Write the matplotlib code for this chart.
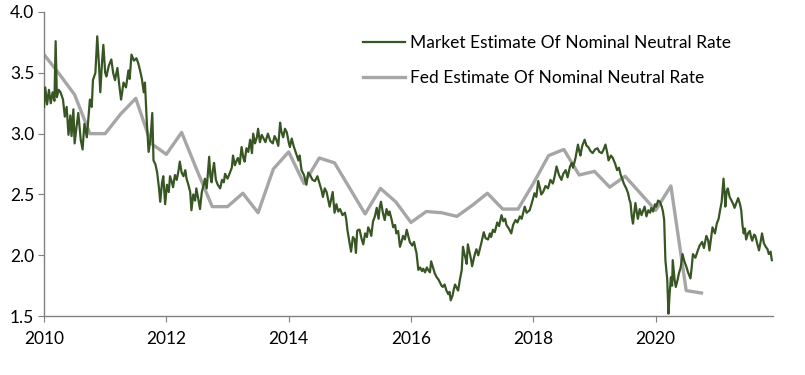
import numpy as np
import matplotlib
matplotlib.use("Agg")
import matplotlib.pyplot as plt

# Market estimate of nominal neutral rate (decimal years)
mkt_t = [
    2010.00, 2010.02, 2010.05, 2010.08, 2010.11, 2010.14, 2010.17, 2010.19, 2010.21, 2010.24,
    2010.27, 2010.31, 2010.34, 2010.37, 2010.40, 2010.43, 2010.45, 2010.48, 2010.50, 2010.53,
    2010.56, 2010.60, 2010.63, 2010.66, 2010.70, 2010.73, 2010.75, 2010.78, 2010.80, 2010.84,
    2010.87, 2010.90, 2010.92, 2010.95, 2010.97, 2011.00, 2011.02, 2011.06, 2011.10, 2011.13,
    2011.16, 2011.20, 2011.23, 2011.26, 2011.30, 2011.34, 2011.38, 2011.40, 2011.43, 2011.47,
    2011.51, 2011.54, 2011.57, 2011.60, 2011.63, 2011.65, 2011.68, 2011.71, 2011.74, 2011.77,
    2011.79, 2011.82, 2011.85, 2011.88, 2011.90, 2011.93, 2011.95, 2011.98, 2012.01, 2012.04,
    2012.06, 2012.09, 2012.11, 2012.14, 2012.17, 2012.20, 2012.22, 2012.25, 2012.28, 2012.31,
    2012.33, 2012.36, 2012.39, 2012.41, 2012.44, 2012.47, 2012.49, 2012.52, 2012.55, 2012.58,
    2012.61, 2012.63, 2012.66, 2012.70, 2012.72, 2012.74, 2012.76, 2012.78, 2012.81, 2012.84,
    2012.88, 2012.91, 2012.94, 2012.96, 2013.00, 2013.04, 2013.07, 2013.09, 2013.12, 2013.15,
    2013.17, 2013.20, 2013.23, 2013.26, 2013.28, 2013.31, 2013.34, 2013.37, 2013.40, 2013.42,
    2013.45, 2013.48, 2013.50, 2013.53, 2013.56, 2013.58, 2013.62, 2013.66, 2013.70, 2013.74,
    2013.77, 2013.80, 2013.83, 2013.86, 2013.88, 2013.91, 2013.94, 2013.97, 2014.00, 2014.02,
    2014.05, 2014.08, 2014.12, 2014.16, 2014.18, 2014.21, 2014.25, 2014.29, 2014.32, 2014.35,
    2014.39, 2014.43, 2014.47, 2014.51, 2014.54, 2014.56, 2014.59, 2014.62, 2014.65, 2014.67,
    2014.70, 2014.72, 2014.75, 2014.78, 2014.81, 2014.84, 2014.88, 2014.92, 2014.94, 2014.96,
    2014.99, 2015.02, 2015.05, 2015.08, 2015.10, 2015.12, 2015.14, 2015.16, 2015.19, 2015.22,
    2015.25, 2015.28, 2015.30, 2015.33, 2015.35, 2015.38, 2015.41, 2015.44, 2015.47, 2015.49,
    2015.51, 2015.54, 2015.57, 2015.60, 2015.63, 2015.65, 2015.68, 2015.71, 2015.74, 2015.76,
    2015.79, 2015.82, 2015.85, 2015.87, 2015.90, 2015.93, 2015.96, 2015.98, 2016.02, 2016.05,
    2016.07, 2016.09, 2016.11, 2016.12, 2016.15, 2016.18, 2016.20, 2016.23, 2016.26, 2016.28,
    2016.31, 2016.33, 2016.36, 2016.39, 2016.42, 2016.45, 2016.47, 2016.50, 2016.52, 2016.55,
    2016.58, 2016.61, 2016.63, 2016.65, 2016.68, 2016.70, 2016.72, 2016.75, 2016.77, 2016.80,
    2016.83, 2016.85, 2016.87, 2016.89, 2016.91, 2016.93, 2016.96, 2016.98, 2017.00, 2017.03,
    2017.05, 2017.07, 2017.10, 2017.12, 2017.15, 2017.19, 2017.22, 2017.26, 2017.29, 2017.31,
    2017.34, 2017.37, 2017.41, 2017.44, 2017.48, 2017.51, 2017.54, 2017.56, 2017.60, 2017.64,
    2017.67, 2017.71, 2017.74, 2017.78, 2017.81, 2017.86, 2017.89, 2017.94, 2017.97, 2018.02,
    2018.05, 2018.08, 2018.11, 2018.13, 2018.16, 2018.20, 2018.24, 2018.28, 2018.32, 2018.35,
    2018.38, 2018.42, 2018.46, 2018.49, 2018.53, 2018.56, 2018.60, 2018.63, 2018.65, 2018.69,
    2018.73, 2018.75, 2018.77, 2018.80, 2018.84, 2018.87, 2018.90, 2018.93, 2018.97, 2019.01,
    2019.05, 2019.08, 2019.12, 2019.15, 2019.18, 2019.21, 2019.23, 2019.27, 2019.30, 2019.34,
    2019.37, 2019.40, 2019.43, 2019.46, 2019.48, 2019.52, 2019.55, 2019.57, 2019.59, 2019.61,
    2019.63, 2019.65, 2019.67, 2019.69, 2019.71, 2019.74, 2019.77, 2019.79, 2019.82, 2019.85,
    2019.88, 2019.91, 2019.93, 2019.96, 2019.99, 2020.01, 2020.04, 2020.07, 2020.10, 2020.12,
    2020.14, 2020.16, 2020.18, 2020.19, 2020.21, 2020.23, 2020.25, 2020.27, 2020.28, 2020.31,
    2020.33, 2020.36, 2020.38, 2020.41, 2020.44, 2020.47, 2020.50, 2020.53, 2020.57, 2020.59,
    2020.61, 2020.65, 2020.69, 2020.72, 2020.76, 2020.79, 2020.83, 2020.86, 2020.88, 2020.91,
    2020.93, 2020.97, 2021.00, 2021.03, 2021.05, 2021.08, 2021.11, 2021.13, 2021.14, 2021.16,
    2021.18, 2021.21, 2021.24, 2021.27, 2021.29, 2021.32, 2021.35, 2021.38, 2021.40, 2021.42,
    2021.44, 2021.46, 2021.48, 2021.51, 2021.54, 2021.56, 2021.58, 2021.61, 2021.63, 2021.66,
    2021.69, 2021.72, 2021.74, 2021.77, 2021.80, 2021.83, 2021.85, 2021.88, 2021.90,
]
mkt_v = [
    3.22, 3.38, 3.24, 3.36, 3.25, 3.34, 3.27, 3.76, 3.30, 3.36,
    3.34, 3.28, 3.14, 3.22, 2.99, 3.15, 2.98, 3.20, 2.92, 3.05,
    3.17, 2.95, 2.87, 3.08, 2.97, 3.15, 3.28, 3.22, 3.44, 3.50,
    3.80, 3.55, 3.34, 3.60, 3.73, 3.50, 3.47, 3.56, 3.61, 3.50,
    3.44, 3.54, 3.40, 3.28, 3.42, 3.38, 3.52, 3.45, 3.65, 3.60,
    3.62, 3.58, 3.52, 3.45, 3.34, 3.42, 3.10, 2.85, 2.95, 3.17,
    2.78, 2.75, 2.68, 2.55, 2.44, 2.60, 2.65, 2.42, 2.58, 2.52,
    2.65, 2.60, 2.56, 2.66, 2.62, 2.70, 2.77, 2.68, 2.65, 2.70,
    2.63, 2.58, 2.52, 2.37, 2.50, 2.45, 2.55, 2.47, 2.38, 2.52,
    2.58, 2.63, 2.55, 2.81, 2.65, 2.60, 2.70, 2.76, 2.62, 2.58,
    2.55, 2.62, 2.60, 2.67, 2.63, 2.68, 2.72, 2.82, 2.74, 2.78,
    2.80, 2.75, 2.89, 2.80, 2.77, 2.88, 2.85, 2.95, 2.84, 3.00,
    2.92, 2.97, 3.04, 2.93, 2.99, 2.97, 2.93, 3.00, 2.94, 2.92,
    2.98, 2.95, 2.90, 3.09, 3.02, 2.97, 3.04, 3.01, 2.93, 2.89,
    2.96, 2.90, 2.84, 2.78, 2.82, 2.70, 2.66, 2.58, 2.68, 2.66,
    2.62, 2.61, 2.65, 2.58, 2.53, 2.48, 2.55, 2.52, 2.45, 2.40,
    2.47, 2.52, 2.35, 2.42, 2.36, 2.38, 2.33, 2.35, 2.30, 2.21,
    2.12, 2.03, 2.15, 2.13, 2.02, 2.20, 2.21, 2.21, 2.14, 2.09,
    2.18, 2.15, 2.23, 2.20, 2.16, 2.28, 2.32, 2.39, 2.30, 2.40,
    2.44, 2.35, 2.29, 2.38, 2.33, 2.36, 2.30, 2.23, 2.25, 2.18,
    2.20, 2.07, 2.12, 2.16, 2.13, 2.21, 2.15, 2.11, 2.08, 2.11,
    2.06, 2.02, 1.93, 1.88, 1.90, 1.87, 1.89, 1.86, 1.90, 1.88,
    1.86, 1.95, 1.90, 1.85, 1.82, 1.80, 1.78, 1.75, 1.74, 1.76,
    1.71, 1.68, 1.70, 1.63, 1.67, 1.72, 1.76, 1.73, 1.71, 1.80,
    1.88, 2.07, 2.02, 1.98, 1.93, 2.09, 2.02, 1.97, 1.91, 1.98,
    2.02, 2.05, 2.00, 2.04, 2.10, 2.19, 2.14, 2.13, 2.18, 2.15,
    2.21, 2.19, 2.27, 2.24, 2.33, 2.28, 2.30, 2.25, 2.22, 2.18,
    2.25, 2.29, 2.27, 2.32, 2.30, 2.40, 2.35, 2.37, 2.42, 2.51,
    2.48, 2.61, 2.55, 2.50, 2.52, 2.57, 2.55, 2.62, 2.59, 2.65,
    2.73, 2.66, 2.62, 2.67, 2.70, 2.64, 2.73, 2.76, 2.72, 2.80,
    2.91, 2.86, 2.82, 2.90, 2.95, 2.90, 2.89, 2.86, 2.84, 2.87,
    2.88, 2.85, 2.84, 2.87, 2.91, 2.84, 2.78, 2.82, 2.80, 2.75,
    2.70, 2.72, 2.66, 2.62, 2.59, 2.55, 2.51, 2.46, 2.43, 2.32,
    2.26, 2.35, 2.43, 2.36, 2.30, 2.38, 2.33, 2.36, 2.40, 2.32,
    2.37, 2.35, 2.39, 2.36, 2.42, 2.40, 2.45, 2.44, 2.40, 2.36,
    2.29, 1.96, 1.85, 1.80, 1.52, 1.69, 1.82, 1.75, 1.96, 1.80,
    1.74, 1.80, 1.85, 1.90, 2.01, 1.95, 1.91, 1.86, 1.81, 1.90,
    2.01, 1.98, 2.04, 2.08, 2.11, 2.06, 2.16, 2.12, 2.04, 2.15,
    2.23, 2.18, 2.26, 2.30, 2.36, 2.44, 2.63, 2.50, 2.40, 2.52,
    2.55, 2.48, 2.45, 2.42, 2.39, 2.43, 2.47, 2.42, 2.37, 2.25,
    2.18, 2.22, 2.13, 2.18, 2.20, 2.15, 2.12, 2.17, 2.16, 2.10,
    2.04, 2.12, 2.18, 2.10, 2.07, 2.05, 2.01, 2.03, 1.96,
]

# Fed estimate of nominal neutral rate (quarterly)
fed_t = [
    2010.00, 2010.25, 2010.50, 2010.75, 2011.00, 2011.25, 2011.50, 2011.75, 2012.00, 2012.25,
    2012.50, 2012.75, 2013.00, 2013.25, 2013.50, 2013.75, 2014.00, 2014.25, 2014.50, 2014.75,
    2015.00, 2015.25, 2015.50, 2015.75, 2016.00, 2016.25, 2016.50, 2016.75, 2017.00, 2017.25,
    2017.50, 2017.75, 2018.00, 2018.25, 2018.50, 2018.75, 2019.00, 2019.25, 2019.50, 2019.75,
    2020.00, 2020.25, 2020.50, 2020.75,
]
fed_v = [
    3.65, 3.49, 3.32, 3.00, 3.00, 3.16, 3.29, 2.92, 2.83, 3.01,
    2.70, 2.40, 2.40, 2.51, 2.35, 2.71, 2.85, 2.59, 2.80, 2.76,
    2.55, 2.34, 2.55, 2.44, 2.27, 2.36, 2.35, 2.32, 2.41, 2.51,
    2.38, 2.38, 2.59, 2.82, 2.87, 2.66, 2.69, 2.56, 2.65, 2.51,
    2.37, 2.57, 1.71, 1.69,
]

xticks = [2010, 2012, 2014, 2016, 2018, 2020]
yticks = [1.5, 2.0, 2.5, 3.0, 3.5, 4.0]

GREEN = "#375623"
GREY = "#a6a6a6"
AXIS = "#808080"

plt.rcParams['font.family'] = ['Lato', 'DejaVu Sans']

fig = plt.figure(figsize=(8.05, 3.75), dpi=100)
ax = fig.add_axes([0.0547, 0.157, 0.9056, 0.811])

ax.plot(mkt_t, mkt_v, color=GREEN, lw=1.6, label="Market Estimate Of Nominal Neutral Rate", zorder=3)
ax.plot(fed_t, fed_v, color=GREY, lw=2.4, label="Fed Estimate Of Nominal Neutral Rate", zorder=2)

ax.set_xlim(2010, 2021.92)
ax.set_ylim(1.5, 4.0)
ax.set_xticks(xticks)
ax.set_xticklabels([str(t) for t in xticks])
ax.set_yticks(yticks)
ax.set_yticklabels([f"{v:.1f}" for v in yticks])

for s in ("top", "right"):
    ax.spines[s].set_visible(False)
for s in ("left", "bottom"):
    ax.spines[s].set_color(AXIS)
    ax.spines[s].set_linewidth(1.0)
ax.tick_params(axis="both", direction="out", length=4, color=AXIS, labelsize=12.5, labelcolor="#000000")
ax.tick_params(axis="x", pad=7)
ax.tick_params(axis="y", pad=3)

leg = ax.legend(loc="upper left", bbox_to_anchor=(0.416, 0.975), frameon=False, fontsize=12.5,
                handlelength=2.4, handletextpad=0.3, labelspacing=1.1)

fig.savefig("out.png", dpi=100)
